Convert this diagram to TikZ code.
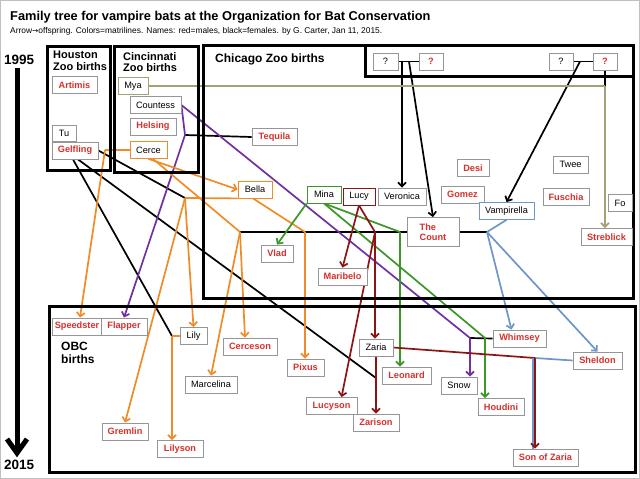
\documentclass[tikz,border=0pt]{standalone}
\usepackage{fontspec}
\setmainfont{Liberation Sans}
\newfontfamily\dejavu{DejaVu Sans}
\usetikzlibrary{arrows.meta,calc}
\pgfdeclarelayer{edges}
\pgfsetlayers{edges,main}
\definecolor{txtred}{RGB}{214,48,44}
\definecolor{boxgray}{RGB}{150,150,150}
\definecolor{corange}{RGB}{240,140,40}
\definecolor{cpurple}{RGB}{112,48,160}
\definecolor{cgreen}{RGB}{60,150,40}
\definecolor{cdred}{RGB}{140,20,20}
\definecolor{cblue}{RGB}{110,150,200}
\definecolor{colive}{RGB}{165,160,120}
\tikzset{
  box/.style={draw=boxgray, line width=0.8pt, fill=white, minimum height=17pt, inner sep=1pt},
  male/.style={box, text=txtred, font=\fontsize{9.2}{10.5}\selectfont\bfseries},
  fem/.style={box, text=black, font=\fontsize{9.2}{10.5}\selectfont},
  frame/.style={line width=3pt, draw=black},
  ftitle/.style={font=\fontsize{11}{13}\selectfont\bfseries, anchor=north west, align=left, inner sep=0pt},
  lnk/.style={line width=1.7pt},
  arr/.style={lnk, -{Straight Barb[length=4pt,width=8pt]}},
}
\begin{document}
\begin{tikzpicture}[x=1pt,y=-1pt]
\useasboundingbox (0,0) rectangle (640,479);
\draw[boxgray!60, line width=1pt] (0.5,0.5) rectangle (639.5,478.5);

% title
\node[anchor=base west, inner sep=0pt, font=\fontsize{12.8}{14}\selectfont\bfseries] (title) at (10,20) {Family tree for vampire bats at the Organization for Bat Conservation};
\node[anchor=base west, inner sep=0pt, font=\fontsize{8.4}{10}\selectfont] (subtitle) at (10,33) {Arrow{\dejavu\fontsize{7.5}{9}\selectfont →}offspring. Colors=matrilines. Names: red=males, black=females. by G. Carter, Jan 11, 2015.};

% timeline
\node[anchor=base west, inner sep=0pt, font=\fontsize{13.5}{15}\selectfont\bfseries] (y1995) at (4,64) {1995};
\node[anchor=base west, inner sep=0pt, font=\fontsize{13.5}{15}\selectfont\bfseries] (y2015) at (4,469) {2015};
\draw[line width=5pt] (17,68) -- (17,452);
\draw[line width=5pt, miter limit=10] (7,439) -- (17,453) -- (27,439);

% frames
\draw[frame] (47,46) rectangle (110,170);
\draw[frame] (114,46) rectangle (198,172);
\draw[frame] (203,45) rectangle (633,298);
\draw[frame] (365,45) rectangle (633,76);
\draw[frame] (49,306) rectangle (635,472);
\node[ftitle] (hou) at (53,51) {Houston\\[-1.5pt]Zoo births};
\node[ftitle] (cin) at (123,52) {Cincinnati\\[-1.5pt]Zoo births};
\node[anchor=base west, inner sep=0pt, font=\fontsize{12}{14}\selectfont\bfseries] (chi) at (215,62) {Chicago Zoo births};
\node[anchor=base west, inner sep=0pt, font=\fontsize{12}{14}\selectfont\bfseries, align=left] (obc) at (61,363) {OBC\\[-1pt]births};

% Houston
\node[male, minimum width=45pt] (artimis) at (74.5,85) {Artimis};
\node[fem, minimum width=24pt, minimum height=16pt] (tu) at (64,133) {Tu};
\node[male, minimum width=46pt] (gelfling) at (75,150.5) {Gelfling};
% Cincinnati
\node[fem, draw=colive, minimum width=30pt] (mya) at (133,86) {Mya};
\node[fem, minimum width=51pt] (countess) at (155.5,105) {Countess};
\node[male, minimum width=46pt] (helsing) at (153,126.5) {Helsing};
\node[fem, draw=corange, minimum width=37pt] (cerce) at (148.5,150) {Cerce};
% Chicago
\node[fem, minimum width=25pt] (q1) at (385.5,61.5) {?};
\node[male, minimum width=24pt] (q2) at (431,61.5) {?};
\node[fem, minimum width=24pt] (q3) at (561,61.5) {?};
\node[male, minimum width=24pt] (q4) at (605,61.5) {?};
\node[male, minimum width=45pt] (tequila) at (274.5,137) {Tequila};
\node[fem, draw=corange, minimum width=34pt] (bella) at (255,189.5) {Bella};
\node[fem, draw=cgreen, minimum width=34pt] (mina) at (324,194.5) {Mina};
\node[fem, draw=cdred, minimum width=32pt] (lucy) at (359,196.5) {Lucy};
\node[fem, minimum width=48pt] (veronica) at (402,196.5) {Veronica};
\node[male, minimum width=32pt] (desi) at (473,168) {Desi};
\node[fem, minimum width=35pt] (twee) at (570.5,164.5) {Twee};
\node[male, minimum width=43pt] (gomez) at (462.5,194.5) {Gomez};
\node[male, minimum width=46pt] (fuschia) at (566,197) {Fuschia};
\node[fem, minimum width=24pt] (fo) at (620,203) {Fo};
\node[fem, draw=cblue, minimum width=55pt] (vampirella) at (506.5,211) {Vampirella};
\node[male, minimum width=52pt, minimum height=29pt, align=left] (count) at (433,232) {The\\Count};
\node[male, minimum width=51pt] (streblick) at (606.5,237) {Streblick};
\node[male, minimum width=32pt] (vlad) at (277,253.5) {Vlad};
\node[male, minimum width=49pt] (maribelo) at (342.5,276.5) {Maribelo};
% OBC
\node[male, minimum width=50pt] (speedster) at (77,326.5) {Speedster};
\node[male, minimum width=46pt] (flapper) at (124,326.5) {Flapper};
\node[fem, minimum width=27pt] (lily) at (193.5,336) {Lily};
\node[male, minimum width=54pt] (cerceson) at (250,346.5) {Cerceson};
\node[fem, minimum width=52pt] (marcelina) at (211,384.5) {Marcelina};
\node[male, minimum width=37pt] (pixus) at (305.5,367.5) {Pixus};
\node[fem, minimum width=34pt] (zaria) at (376,347.5) {Zaria};
\node[male, minimum width=49pt] (leonard) at (406.5,375.5) {Leonard};
\node[male, minimum width=53pt] (whimsey) at (519.5,338.5) {Whimsey};
\node[male, minimum width=49pt] (sheldon) at (597.5,360.5) {Sheldon};
\node[fem, minimum width=36pt] (snow) at (459,385.5) {Snow};
\node[male, minimum width=46pt] (houdini) at (501,407) {Houdini};
\node[male, minimum width=46pt] (gremlin) at (125,431.5) {Gremlin};
\node[male, minimum width=46pt] (lilyson) at (180,449) {Lilyson};
\node[male, minimum width=51pt] (lucyson) at (331.5,406) {Lucyson};
\node[male, minimum width=46pt] (zarison) at (376,422.5) {Zarison};
\node[male, minimum width=65pt] (sonofzaria) at (545.5,457.5) {Son of Zaria};

% junctions
\coordinate (jFlap) at (185,135);
\coordinate (jSnow) at (470,338);
\coordinate (jSpeed) at (105,150);
\coordinate (jA) at (240,232);
\coordinate (jB) at (305,232);
\coordinate (jLily) at (185,198);
\coordinate (jLS) at (172,336);
\coordinate (jZ) at (376,378);
\coordinate (jV) at (487,232);
\coordinate (jQ1) at (402,61.5);
\coordinate (jQ2) at (409,61.5);
\coordinate (jQ3) at (580,61.5);
\coordinate (jMya) at (605,86);
\coordinate (jM) at (400,232);
\coordinate (jH) at (485,338);
\coordinate (jL) at (375,232);
\coordinate (jS) at (535,358);
\coordinate (jS2) at (533.3,358);

\begin{pgfonlayer}{edges}
% black
\draw[lnk] (q1.east) -- (q2.west);
\draw[arr] (jQ1) -- (jQ1 |- veronica.north);
\draw[arr] (jQ2) -- (count.north);
\draw[lnk] (q3.east) -- (q4.west);
\draw[arr] (jQ3) -- (vampirella.north);
\draw[lnk] (q4.south) -- (jMya);
\draw[lnk] (jA) -- (count.west);
\draw[lnk] (count.east) -- (jV);
\draw[lnk] (tequila.west) -- (jFlap);
\draw[lnk] (gelfling.east) -- (jLily);
\draw[lnk] ([xshift=-2pt]gelfling.south) -- (jLS);
\draw[lnk] ([xshift=3pt]gelfling.south) -- (jZ);
\draw[lnk] (jSnow) -- (whimsey.west);
% olive
\draw[lnk, colive] (mya.east) -- (jMya);
\draw[arr, colive] (jMya) -- (jMya |- streblick.north);
% purple
\draw[lnk, cpurple] (countess.east) -- (jFlap);
\draw[arr, cpurple] (jFlap) -- (flapper.north);
\draw[lnk, cpurple] (countess.east) -- (jSnow);
\draw[arr, cpurple] (jSnow) -- (jSnow |- snow.north);
% orange
\draw[lnk, corange] (cerce.west) -- (jSpeed);
\draw[arr, corange] (jSpeed) -- ([xshift=3pt]speedster.north);
\draw[arr, corange] (cerce.south) -- (bella.west);
\draw[lnk, corange] ([xshift=4.5pt]cerce.south) -- (jA);
\draw[arr, corange] (jA) -- ([xshift=-5pt]cerceson.north);
\draw[arr, corange] (jA) -- (marcelina.north);
\draw[lnk, corange] (bella.south west) -- (jLily);
\draw[arr, corange] (jLily) -- (lily.north);
\draw[arr, corange] (jLily) -- (gremlin.north);
\draw[lnk, corange] ([xshift=-2pt]bella.south) -- (jB);
\draw[arr, corange] (jB) -- (jB |- pixus.north);
\draw[lnk, corange] (lily.west) -- (jLS);
\draw[arr, corange] (jLS) -- (jLS |- lilyson.north);
% green
\draw[arr, cgreen] (mina.south west) -- (vlad.north);
\draw[lnk, cgreen] (mina.south) -- (jM);
\draw[arr, cgreen] (jM) -- (jM |- leonard.north);
\draw[lnk, cgreen] (mina.south) -- (jH);
\draw[arr, cgreen] (jH) -- (jH |- houdini.north);
% dark red
\draw[arr, cdred] (lucy.south) -- (maribelo.north);
\draw[lnk, cdred] (lucy.south) -- (jL);
\draw[arr, cdred] (jL) -- (jL |- zaria.north);
\draw[arr, cdred] (jL) -- ([xshift=10pt]lucyson.north);
\draw[arr, cdred] (zaria.south) -- (zarison.north);
\draw[lnk, cdred] (zaria.east) -- (jS);
% blue
\draw[lnk, cblue] (vampirella.south) -- (jV);
\draw[arr, cblue] (jV) -- ([xshift=-8pt]whimsey.north);
\draw[arr, cblue] (jV) -- (sheldon.north);
\draw[lnk, cblue] (sheldon.west) -- (jS);
\draw[lnk, cblue] (jS2) -- ([yshift=-3pt]jS2 |- sonofzaria.north);
\draw[arr, cdred] (jS) -- (jS |- sonofzaria.north);
\end{pgfonlayer}
\end{tikzpicture}
\end{document}
